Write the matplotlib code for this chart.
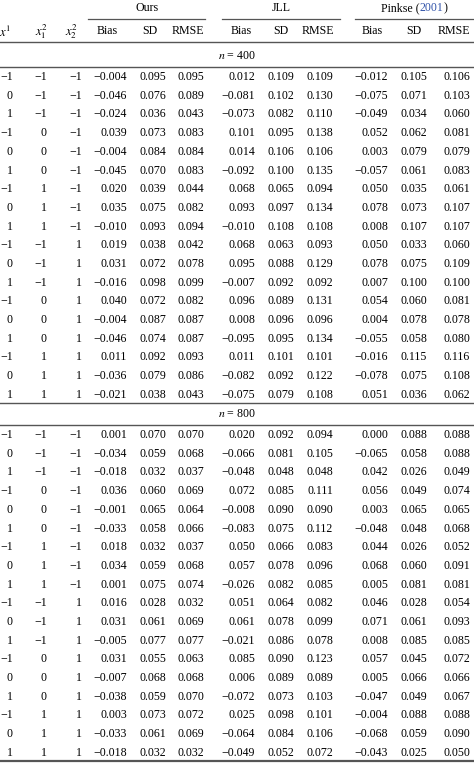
import matplotlib
matplotlib.use("Agg")
import matplotlib.pyplot as plt

plt.rcParams['font.family'] = ['Liberation Serif', 'DejaVu Serif']
plt.rcParams['mathtext.fontset'] = 'stix'

x1 = [-1, 0, 1, -1, 0, 1, -1, 0, 1, -1, 0, 1, -1, 0, 1, -1, 0, 1]
x21 = [-1, -1, -1, 0, 0, 0, 1, 1, 1, -1, -1, -1, 0, 0, 0, 1, 1, 1]
x22 = [-1]*9 + [1]*9

ours_400 = [(-0.004,0.095,0.095),(-0.046,0.076,0.089),(-0.024,0.036,0.043),(0.039,0.073,0.083),
            (-0.004,0.084,0.084),(-0.045,0.070,0.083),(0.020,0.039,0.044),(0.035,0.075,0.082),
            (-0.010,0.093,0.094),(0.019,0.038,0.042),(0.031,0.072,0.078),(-0.016,0.098,0.099),
            (0.040,0.072,0.082),(-0.004,0.087,0.087),(-0.046,0.074,0.087),(0.011,0.092,0.093),
            (-0.036,0.079,0.086),(-0.021,0.038,0.043)]
jll_400 = [(0.012,0.109,0.109),(-0.081,0.102,0.130),(-0.073,0.082,0.110),(0.101,0.095,0.138),
           (0.014,0.106,0.106),(-0.092,0.100,0.135),(0.068,0.065,0.094),(0.093,0.097,0.134),
           (-0.010,0.108,0.108),(0.068,0.063,0.093),(0.095,0.088,0.129),(-0.007,0.092,0.092),
           (0.096,0.089,0.131),(0.008,0.096,0.096),(-0.095,0.095,0.134),(0.011,0.101,0.101),
           (-0.082,0.092,0.122),(-0.075,0.079,0.108)]
pinkse_400 = [(-0.012,0.105,0.106),(-0.075,0.071,0.103),(-0.049,0.034,0.060),(0.052,0.062,0.081),
              (0.003,0.079,0.079),(-0.057,0.061,0.083),(0.050,0.035,0.061),(0.078,0.073,0.107),
              (0.008,0.107,0.107),(0.050,0.033,0.060),(0.078,0.075,0.109),(0.007,0.100,0.100),
              (0.054,0.060,0.081),(0.004,0.078,0.078),(-0.055,0.058,0.080),(-0.016,0.115,0.116),
              (-0.078,0.075,0.108),(0.051,0.036,0.062)]
ours_800 = [(0.001,0.070,0.070),(-0.034,0.059,0.068),(-0.018,0.032,0.037),(0.036,0.060,0.069),
            (-0.001,0.065,0.064),(-0.033,0.058,0.066),(0.018,0.032,0.037),(0.034,0.059,0.068),
            (0.001,0.075,0.074),(0.016,0.028,0.032),(0.031,0.061,0.069),(-0.005,0.077,0.077),
            (0.031,0.055,0.063),(-0.007,0.068,0.068),(-0.038,0.059,0.070),(0.003,0.073,0.072),
            (-0.033,0.061,0.069),(-0.018,0.032,0.032)]
jll_800 = [(0.020,0.092,0.094),(-0.066,0.081,0.105),(-0.048,0.048,0.048),(0.072,0.085,0.111),
           (-0.008,0.090,0.090),(-0.083,0.075,0.112),(0.050,0.066,0.083),(0.057,0.078,0.096),
           (-0.026,0.082,0.085),(0.051,0.064,0.082),(0.061,0.078,0.099),(-0.021,0.086,0.078),
           (0.085,0.090,0.123),(0.006,0.089,0.089),(-0.072,0.073,0.103),(0.025,0.098,0.101),
           (-0.064,0.084,0.106),(-0.049,0.052,0.072)]
pinkse_800 = [(0.000,0.088,0.088),(-0.065,0.058,0.088),(0.042,0.026,0.049),(0.056,0.049,0.074),
              (0.003,0.065,0.065),(-0.048,0.048,0.068),(0.044,0.026,0.052),(0.068,0.060,0.091),
              (0.005,0.081,0.081),(0.046,0.028,0.054),(0.071,0.061,0.093),(0.008,0.085,0.085),
              (0.057,0.045,0.072),(0.005,0.066,0.066),(-0.047,0.049,0.067),(-0.004,0.088,0.088),
              (-0.068,0.059,0.090),(-0.043,0.025,0.050)]

W, H = 474, 763
fig = plt.figure(figsize=(W/100, H/100), dpi=100)
ax = fig.add_axes([0, 0, 1, 1])
ax.set_xlim(0, W); ax.set_ylim(H, 0); ax.axis('off')

fs = 8.6
def fmt(v):
    return f"{v:.3f}".replace('-', '\u2212')
def ifmt(v):
    return str(v).replace('-', '\u2212')

renderer = fig.canvas.get_renderer()
def width_px(t):
    return t.get_window_extent(renderer=renderer).width

# header
groups = [("Ours", 147, 88, 205), ("JLL", 281, 222, 340), ("Pinkse", 414, 355, 474)]
for name, cx, a, b in groups:
    if name == "Pinkse":
        parts = [("Pinkse (", 'black'), ("2001", '#3355aa'), (")", 'black')]
        texts = [ax.text(0, 8, s, ha='left', va='center', fontsize=fs, color=c) for s, c in parts]
        widths = [width_px(t) for t in texts]
        x = cx - sum(widths) / 2
        for t, w in zip(texts, widths):
            t.set_x(x)
            x += w
    else:
        ax.text(cx, 8, name, ha='center', va='center', fontsize=fs)
    ax.plot([a, b], [19, 19], color='#555555', lw=0.9)

sub_x = [(107, 150, 188), (241, 281, 318), (372, 414, 454)]
for bx, sx, rx in sub_x:
    ax.text(bx, 31, "Bias", ha='center', va='center', fontsize=fs)
    ax.text(sx, 31, "SD", ha='center', va='center', fontsize=fs)
    ax.text(rx, 31, "RMSE", ha='center', va='center', fontsize=fs)
ax.text(5, 32, r"$x^1$", ha='center', va='center', fontsize=fs+0.5)
ax.text(42, 32, r"$x_1^2$", ha='center', va='center', fontsize=fs+0.5)
ax.text(72, 32, r"$x_2^2$", ha='center', va='center', fontsize=fs+0.5)

def hline(y, lw=1.0):
    ax.plot([0, W], [y, y], color='#555555', lw=lw)

hline(42)
vcols = [127, 166, 204, 255, 294, 333, 388, 427, 470]

def block(y_title, title, y0, o, j, p):
    ax.text(237, y_title, title, ha='center', va='center', fontsize=fs)
    hline(y_title + 11)
    step = 18.7
    for i in range(18):
        y = y0 + i*step
        ax.text(13, y, ifmt(x1[i]), ha='right', va='center', fontsize=fs)
        ax.text(47, y, ifmt(x21[i]), ha='right', va='center', fontsize=fs)
        ax.text(82, y, ifmt(x22[i]), ha='right', va='center', fontsize=fs)
        vals = list(o[i]) + list(j[i]) + list(p[i])
        for xc, v in zip(vcols, vals):
            ax.text(xc, y, fmt(v), ha='right', va='center', fontsize=fs)

block(56, r"$n$ = 400", 77, ours_400, jll_400, pinkse_400)
hline(403)
block(414, r"$n$ = 800", 435, ours_800, jll_800, pinkse_800)
hline(761, lw=1.6)

fig.savefig("out.png", dpi=100)
